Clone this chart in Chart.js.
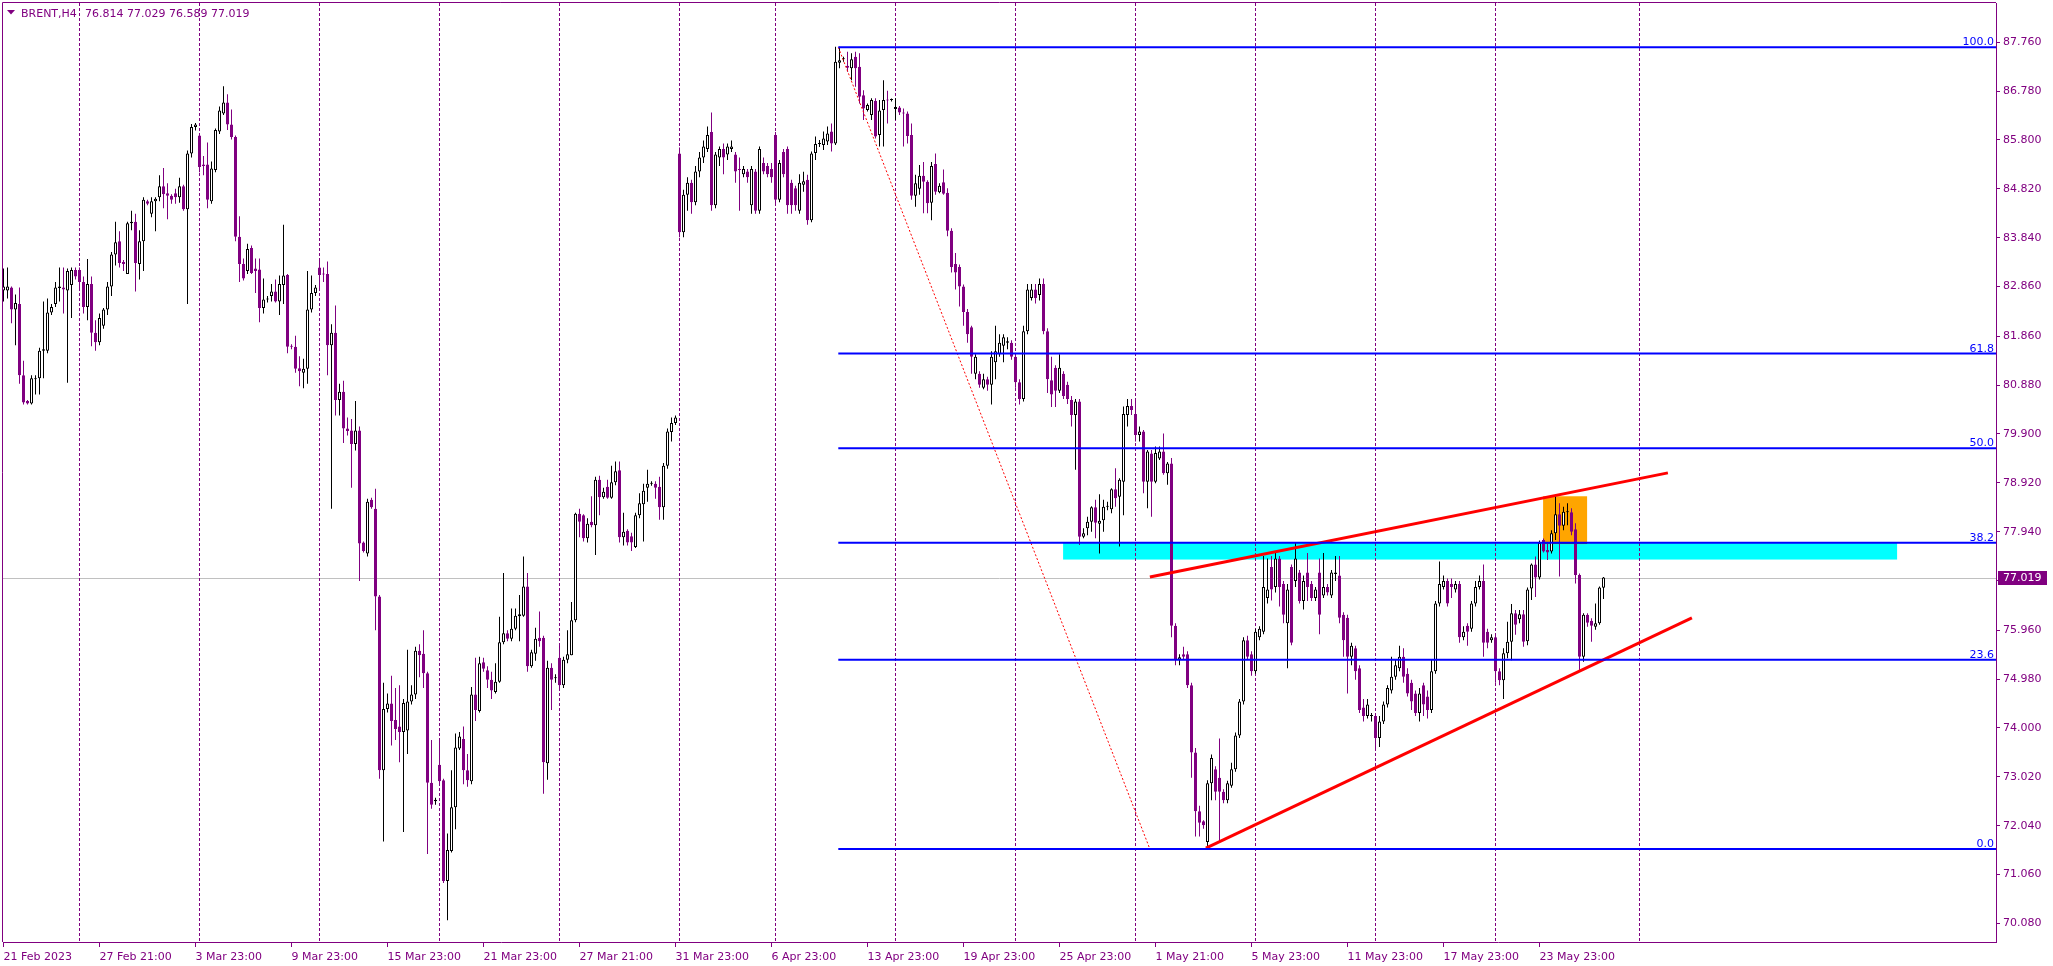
<!DOCTYPE html>
<html>
<head>
<meta charset="utf-8">
<title>BRENT,H4</title>
<script src="https://cdn.jsdelivr.net/npm/chart.js@4.4.1/dist/chart.umd.min.js"></script>
<style>
  html, body { margin: 0; padding: 0; background: #ffffff; }
  canvas { display: block; }
</style>
</head>
<body>
<canvas id="brent" width="2053" height="966"></canvas>
<script>
// BRENT H4 candles, bar 0 = 21 Feb 2023
const opens = [
  82.78,82.78,82.84,82.40,82.51,81.08,80.56,80.51,81.00,81.02,81.57,81.57,82.34,82.51,82.83,82.84,82.78,82.89,83.19,83.19,
  82.95,82.45,82.91,81.93,81.74,82.07,82.40,82.86,83.50,83.77,83.35,83.11,84.13,84.16,83.31,83.77,84.57,84.32,84.57,84.65,
  84.87,84.73,84.68,84.73,84.65,84.87,84.41,85.53,86.06,85.89,85.31,85.31,84.57,85.20,85.97,86.33,86.55,86.11,85.86,83.86,
  83.31,83.17,83.63,83.22,83.20,82.43,82.60,82.67,82.76,82.56,82.89,83.09,81.66,81.65,81.22,81.13,81.21,82.40,82.73,83.24,
  83.12,83.11,81.68,81.93,80.58,80.75,80.01,79.97,79.70,79.97,77.72,77.50,78.58,78.40,76.64,73.15,74.38,74.49,74.16,74.03,
  73.92,73.95,74.53,74.67,75.55,75.49,75.10,72.90,72.53,73.26,72.95,70.93,71.53,72.41,73.59,73.78,73.15,72.93,74.67,74.34,
  75.32,75.16,74.97,74.72,74.93,75.72,75.90,75.79,75.99,76.24,76.25,76.84,75.24,75.49,75.81,75.81,73.29,75.21,75.00,75.41,
  74.86,75.37,75.46,76.16,78.30,78.27,77.81,78.14,78.07,78.98,78.63,78.84,78.62,78.93,79.17,77.83,77.96,77.85,77.63,78.27,
  78.49,78.82,78.90,78.90,78.84,78.43,79.26,79.94,80.12,85.53,83.95,84.70,84.94,84.55,85.17,85.45,85.62,85.96,84.49,85.45,
  85.62,85.51,85.62,85.51,85.22,85.11,85.17,84.49,85.17,84.38,85.34,85.28,85.22,85.90,84.60,85.56,85.62,84.94,84.83,84.38,
  84.90,85.00,84.19,85.54,85.72,85.70,85.77,85.97,85.73,87.35,87.42,87.29,87.24,87.47,87.27,86.70,86.40,86.30,86.58,85.90,
  86.40,86.60,86.60,86.42,86.45,86.34,86.33,85.90,84.68,84.82,85.08,84.96,84.54,85.32,84.75,84.95,84.74,83.98,83.31,83.25,
  82.86,82.35,82.04,81.11,81.11,80.83,81.00,80.89,81.34,81.50,81.67,81.73,81.73,81.45,80.94,80.60,81.96,82.63,82.80,82.69,
  82.91,81.96,80.98,81.23,80.77,81.11,80.89,80.58,80.28,80.55,77.84,78.01,78.14,78.43,78.10,78.17,78.44,78.39,78.79,78.64,
  78.94,80.28,80.46,80.30,79.88,79.95,78.94,79.51,78.94,79.41,79.55,79.11,79.31,76.05,75.37,75.48,75.48,74.86,73.51,72.33,
  72.13,71.71,72.89,73.17,73.00,72.72,72.55,72.84,73.17,73.85,74.53,75.76,75.48,75.14,75.82,75.93,76.61,77.23,76.83,77.40,
  76.89,76.10,77.23,76.95,77.12,76.55,77.12,76.89,76.61,77.12,76.66,76.83,76.66,77.09,77.06,76.27,76.21,75.43,75.60,75.20,
  74.41,74.24,74.24,74.24,73.80,74.13,74.47,74.75,75.03,75.20,75.43,75.09,74.91,74.69,74.30,74.86,74.63,74.36,75.14,76.50,
  76.83,76.95,76.89,76.78,76.89,75.82,76.05,75.99,76.50,76.83,76.95,75.93,75.76,75.82,75.14,74.96,75.50,75.73,76.30,76.18,
  76.28,75.74,76.80,77.28,77.02,77.77,77.57,77.54,77.91,78.29,78.06,78.33,78.33,77.99,77.07,75.43,76.27,76.15,76.03,76.10,
  76.814
];
const highs = [
  83.22,83.24,82.86,82.70,82.84,81.37,80.58,81.08,81.08,81.63,82.56,82.62,82.51,82.95,83.24,83.24,83.22,83.24,83.24,83.24,
  83.06,83.41,83.06,82.18,82.32,82.43,82.95,83.55,84.16,83.97,83.39,84.16,84.38,84.32,83.99,84.65,84.60,84.65,84.65,85.09,
  85.24,84.93,84.71,84.82,85.04,84.90,85.59,86.12,86.14,85.92,85.48,85.75,85.37,86.03,86.47,86.88,86.72,86.41,85.89,84.27,
  83.42,83.72,83.68,83.42,83.42,83.02,82.67,82.91,83.00,83.08,84.10,83.11,81.70,81.87,81.46,81.41,83.17,83.08,82.89,83.42,
  83.24,83.36,82.10,82.48,80.91,80.97,80.23,80.20,80.56,80.05,77.74,78.60,78.62,78.80,76.67,74.91,74.69,75.05,74.80,74.86,
  74.58,75.57,74.86,75.63,75.68,75.96,75.13,73.76,72.60,73.76,72.98,71.88,73.15,73.89,73.92,74.03,73.48,74.82,75.41,75.43,
  75.41,75.24,75.13,75.30,76.23,77.11,75.96,76.40,76.40,76.67,77.44,77.11,75.57,76.01,76.34,75.85,75.35,75.30,75.08,75.68,
  75.43,75.96,76.53,78.32,78.40,78.29,78.21,78.65,79.04,79.06,78.82,78.98,79.26,79.35,79.35,78.32,77.99,77.92,78.32,78.71,
  78.90,79.18,78.95,78.95,79.04,79.32,80.01,80.23,80.27,85.65,84.80,85.05,85.00,85.28,85.56,85.79,86.07,86.35,85.56,85.67,
  85.73,85.73,85.79,85.56,85.45,85.28,85.22,85.28,85.22,85.67,85.45,85.34,85.34,85.96,85.40,85.62,85.67,85.00,84.88,85.11,
  85.16,85.10,85.57,85.87,85.80,85.97,86.07,86.13,87.67,87.67,87.47,87.57,87.54,87.57,87.54,86.80,86.53,86.64,86.64,86.60,
  87.00,86.79,86.63,86.64,86.48,86.43,86.37,86.13,85.10,85.30,85.36,84.99,85.36,85.53,84.93,85.21,84.83,84.03,83.53,83.30,
  82.90,82.41,82.07,81.50,81.16,81.11,81.05,81.56,82.07,81.90,81.90,81.84,81.78,81.50,81.00,82.07,82.91,82.91,82.91,83.02,
  83.02,82.02,81.45,81.28,81.50,81.16,80.95,80.66,80.60,80.60,78.01,78.24,78.45,78.58,78.69,78.58,78.54,78.81,79.21,79.01,
  80.45,80.60,80.60,80.60,80.05,79.98,79.58,79.58,79.65,79.65,79.91,79.34,79.42,76.10,75.48,75.63,75.54,74.91,73.60,72.44,
  72.15,72.95,73.47,73.23,73.79,72.77,72.94,73.30,73.91,74.58,75.82,75.85,75.54,75.99,76.04,77.45,77.40,77.45,77.51,77.45,
  76.95,76.89,77.28,77.73,77.17,77.06,77.51,76.95,76.83,77.40,77.51,76.89,77.17,77.45,77.45,76.32,76.27,75.71,75.65,75.26,
  74.58,74.58,74.30,74.30,74.24,74.53,74.86,75.43,75.37,75.65,75.60,75.20,74.97,74.75,74.80,74.91,74.75,75.37,76.55,77.34,
  77.06,77.00,77.00,76.95,76.95,76.04,76.10,76.55,76.95,77.06,77.28,75.99,75.88,75.88,75.20,75.60,76.13,76.49,76.37,76.37,
  76.37,76.82,77.30,77.44,77.76,77.80,77.71,77.97,78.68,78.51,78.44,78.51,78.41,78.11,77.10,76.30,76.30,76.20,76.50,76.84,
  77.029
];
const lows = [
  82.56,82.62,82.12,81.68,80.91,80.49,80.49,80.49,80.69,80.69,81.02,81.52,82.29,82.45,82.56,82.32,80.93,82.23,83.00,82.78,
  82.32,82.18,81.66,81.57,81.68,82.01,82.29,82.67,83.28,83.24,83.17,83.11,83.99,82.76,83.00,83.17,84.49,84.25,83.97,84.57,
  84.43,84.21,84.52,84.52,84.54,84.38,82.51,85.45,85.99,85.15,85.09,84.43,84.52,85.15,85.92,86.30,86.00,85.81,83.77,82.95,
  82.98,83.11,83.11,82.73,82.14,82.32,82.54,82.56,82.54,82.29,82.51,81.52,81.60,81.13,80.86,80.82,80.91,82.34,82.67,82.78,
  82.95,81.08,78.40,80.27,80.27,79.72,79.87,78.82,79.57,76.95,77.52,77.44,78.40,75.96,72.98,71.72,74.31,73.65,73.76,73.31,
  71.91,73.48,74.47,74.58,75.02,74.80,71.47,72.38,72.46,72.87,70.89,70.14,71.50,71.97,73.56,72.87,72.82,72.87,74.14,74.31,
  75.13,74.80,74.58,74.69,74.91,75.68,75.74,75.74,75.96,75.74,76.23,75.13,75.21,75.35,75.63,72.68,72.96,74.36,74.91,74.80,
  74.80,75.30,75.46,76.12,77.83,77.74,77.72,78.03,77.47,78.27,78.60,78.60,78.60,78.87,77.72,77.66,77.66,77.55,77.61,78.21,
  77.74,78.54,78.86,78.60,78.18,78.18,79.20,79.75,80.08,83.85,83.85,84.38,84.32,84.49,85.05,85.34,85.56,84.38,84.43,85.28,
  85.11,85.40,85.56,84.94,84.38,85.05,84.94,84.32,84.32,84.32,85.11,85.05,84.94,84.49,84.55,85.05,84.32,84.32,84.38,84.32,
  84.76,84.10,84.15,85.40,85.66,85.60,85.70,85.57,85.70,87.24,87.37,87.17,87.00,86.87,86.53,86.20,86.37,86.20,85.83,85.67,
  85.67,86.13,86.57,86.20,86.30,85.67,85.73,84.60,84.46,84.70,84.33,84.33,84.19,84.70,84.73,84.70,83.87,83.14,82.80,82.46,
  82.07,81.73,81.11,81.00,80.83,80.80,80.77,80.49,81.00,81.45,81.34,81.60,81.39,80.83,80.49,80.55,81.90,82.58,82.52,82.58,
  81.90,80.72,80.44,80.44,80.72,80.60,80.50,80.05,79.18,77.67,77.81,77.87,77.94,77.81,77.50,77.94,78.37,78.31,78.44,77.64,
  78.27,80.05,80.28,79.75,79.75,78.71,78.41,78.24,78.91,79.38,79.08,78.88,75.82,75.26,75.26,75.37,74.80,73.00,71.82,71.82,
  71.98,71.57,72.55,72.55,71.71,72.49,72.49,72.80,73.12,73.80,74.47,75.37,75.05,75.09,75.76,75.88,76.50,76.56,76.72,76.44,
  76.10,75.20,75.66,76.83,76.50,76.38,76.55,76.55,76.55,75.88,76.61,76.66,76.61,76.95,76.10,75.43,74.69,75.26,74.97,74.30,
  74.13,74.19,74.13,73.57,73.62,74.08,74.41,74.69,74.97,75.14,74.91,74.63,74.36,74.24,74.13,74.24,74.19,74.30,75.09,76.44,
  76.78,76.44,76.61,76.72,75.71,75.76,75.65,75.93,76.44,76.78,75.43,75.60,75.71,74.91,74.86,74.58,75.40,75.36,75.87,76.10,
  75.63,75.66,76.57,76.63,76.98,77.52,77.37,77.50,77.77,77.04,77.97,78.07,77.87,76.90,75.16,75.33,76.03,75.73,75.97,76.07,
  76.589
];
const closes = [
  82.86,82.86,82.40,82.53,81.08,80.53,80.51,81.02,81.02,81.57,81.60,82.34,82.45,82.84,82.86,82.80,83.17,83.19,83.06,82.95,
  82.45,82.91,81.93,81.74,82.23,82.40,82.86,83.50,83.75,83.33,83.31,84.13,84.16,83.33,83.77,84.60,84.52,84.57,84.62,84.87,
  84.71,84.68,84.60,84.65,84.87,84.41,85.53,86.06,86.11,85.26,85.28,84.60,85.23,86.00,86.39,86.55,86.11,85.86,83.86,83.31,
  83.02,83.61,83.13,83.17,82.43,82.60,82.60,82.76,82.56,82.91,83.08,81.65,81.65,81.21,81.16,81.21,82.40,82.73,82.84,83.09,
  83.10,81.68,81.93,80.58,80.75,80.01,79.96,79.70,79.97,77.70,77.55,78.54,78.43,76.64,73.15,74.38,74.49,74.14,73.98,73.92,
  74.50,74.53,74.67,75.55,75.46,75.10,72.90,72.46,72.56,72.93,70.93,71.55,72.41,73.61,73.83,73.15,72.95,74.67,74.36,75.30,
  75.19,74.97,74.75,74.93,75.72,75.90,75.79,75.99,76.25,76.28,76.84,75.24,75.52,75.79,75.74,73.31,75.21,74.97,75.00,74.86,
  75.37,75.48,76.16,78.30,78.14,77.81,78.10,78.07,78.98,78.63,78.74,78.62,78.93,79.15,77.83,77.94,77.72,77.72,78.27,78.51,
  78.76,78.90,78.90,78.82,78.43,79.26,79.95,80.12,80.23,83.95,84.70,84.94,84.55,85.17,85.45,85.67,85.90,84.49,85.51,85.62,
  85.45,85.67,85.67,85.17,85.20,85.22,85.05,85.22,84.38,85.62,85.17,85.11,85.05,84.60,85.34,85.11,84.49,84.49,84.49,84.94,
  84.97,84.19,85.53,85.72,85.74,85.83,85.93,85.73,87.37,87.40,87.42,87.25,87.42,87.24,86.67,86.43,86.50,86.60,85.87,86.39,
  86.60,86.59,86.60,86.46,86.35,86.33,85.88,84.68,84.93,85.08,84.96,84.53,85.28,84.76,84.88,84.72,83.98,83.25,83.14,82.86,
  82.35,81.90,81.45,81.45,80.89,81.00,80.89,81.45,81.56,81.73,81.84,81.76,81.45,80.94,80.60,81.96,82.80,82.80,82.63,82.91,
  81.96,81.00,80.69,80.77,81.23,80.66,80.60,80.28,80.55,77.84,77.91,78.14,78.43,78.12,78.16,78.44,78.44,78.79,78.61,78.98,
  80.30,80.46,80.38,79.88,79.95,78.94,79.55,78.94,79.52,79.55,79.11,79.31,76.05,75.37,75.42,75.43,74.86,73.51,72.33,72.10,
  72.05,72.89,73.40,72.72,72.72,72.55,72.89,73.17,73.85,74.53,75.76,75.43,75.14,75.93,75.99,76.83,76.78,76.78,77.40,76.83,
  76.27,76.78,75.71,77.40,76.55,76.95,76.83,76.61,76.78,76.27,76.83,76.72,77.12,77.12,76.21,75.76,75.43,75.65,75.14,74.36,
  74.24,74.47,74.24,73.80,74.13,74.47,74.80,75.03,75.26,75.43,75.03,74.69,74.53,74.30,74.69,74.47,74.36,75.14,76.50,76.89,
  76.95,76.50,76.83,76.89,75.82,75.93,75.93,76.50,76.83,76.95,75.71,75.71,75.82,75.14,74.96,75.50,75.73,76.30,76.07,76.28,
  75.73,76.78,77.28,77.02,77.71,77.54,77.52,77.91,78.29,78.06,78.34,78.33,77.94,77.07,75.43,76.27,76.11,76.05,76.10,76.82,
  77.019
];

// time axis labels (bar index -> text) and weekly separators
const tickBars = [0, 24, 48, 72, 96, 120, 144, 168, 192, 216, 240, 264, 288, 312, 336, 360, 384];
const tickLabels = ['21 Feb 2023', '27 Feb 21:00', '3 Mar 23:00', '9 Mar 23:00', '15 Mar 23:00', '21 Mar 23:00',
  '27 Mar 21:00', '31 Mar 23:00', '6 Apr 23:00', '13 Apr 23:00', '19 Apr 23:00', '25 Apr 23:00', '1 May 21:00',
  '5 May 23:00', '11 May 23:00', '17 May 23:00', '23 May 23:00'];
const weekStarts = [19, 49, 79, 109, 139, 169, 193, 223, 253, 283, 313, 343, 373, 409];
const priceTicks = [70.08, 71.06, 72.04, 73.02, 74.00, 74.98, 75.96, 76.96, 77.94, 78.92, 79.90,
  80.88, 81.86, 82.86, 83.84, 84.82, 85.80, 86.78, 87.76];

// analysis objects
const fibBars = [208.7, 286.6];
const fibHigh = 87.66;
const fibLow = 71.57;
const fibLevels = [0, 23.6, 38.2, 50, 61.8, 100];
const upperTrendBars = [286.6, 416.1];
const upperTrendPrices = [77.03, 79.12];
const lowerTrendBars = [300.6, 422.1];
const lowerTrendPrices = [71.59, 76.21];
const zoneBars = [264.9, 473.4];
const zonePrices = [77.38, 77.72];
const boxBars = [384.9, 395.9];
const boxPrices = [77.69, 78.65];

const xMin = -0.125;
const xMax = 498.125;
const yMin = 69.705;
const yMax = 88.549;

const PURPLE = '#800080';
const last = closes.length - 1;
const isUp = i => closes[i] >= opens[i];
const fibPrice = lv => fibLow + (fibHigh - fibLow) * lv / 100;

Chart.defaults.font.family = '"DejaVu Sans", Verdana, sans-serif';
Chart.defaults.font.size = 11;
Chart.defaults.color = PURPLE;

const idx = closes.map((c, i) => i);

const candleWicks = {
  label: 'wicks',
  data: idx.map(i => ({ x: i, y: [lows[i], highs[i]] })),
  backgroundColor: idx.map(i => isUp(i) ? '#000000' : PURPLE),
  borderWidth: 0,
  grouped: false,
  barPercentage: 1,
  categoryPercentage: 1,
  maxBarThickness: 1,
  inflateAmount: 0,
  order: 2
};

const candleBodies = {
  label: 'bodies',
  data: idx.map(i => ({ x: i, y: [opens[i], closes[i]] })),
  backgroundColor: idx.map(i => isUp(i) ? '#ffffff' : PURPLE),
  borderColor: idx.map(i => isUp(i) ? '#000000' : PURPLE),
  borderWidth: 1,
  borderSkipped: false,
  minBarLength: 1,
  grouped: false,
  barPercentage: 1,
  categoryPercentage: 1,
  maxBarThickness: 3,
  inflateAmount: 0,
  order: 1
};

function segment(bars, prices, color, width, dash) {
  return {
    type: 'line',
    data: [{ x: bars[0], y: prices[0] }, { x: bars[1], y: prices[1] }],
    borderColor: color,
    borderWidth: width,
    borderDash: dash || [],
    pointRadius: 0,
    pointHoverRadius: 0,
    fill: false,
    tension: 0,
    order: 0
  };
}

const fibLines = fibLevels.map(lv => segment([fibBars[0], xMax], [fibPrice(lv), fibPrice(lv)], '#0000ff', 2));

// rectangles, price line and separators behind the candles; labels on top
const terminalDecor = {
  id: 'terminalDecor',
  beforeDatasetsDraw(chart) {
    const { ctx, chartArea: a, scales: { x, y } } = chart;
    ctx.save();
    ctx.beginPath();
    ctx.rect(a.left, a.top, a.right - a.left, a.bottom - a.top);
    ctx.clip();

    let x1 = x.getPixelForValue(zoneBars[0]), x2 = x.getPixelForValue(zoneBars[1]);
    let y1 = y.getPixelForValue(zonePrices[1]), y2 = y.getPixelForValue(zonePrices[0]);
    ctx.fillStyle = '#00ffff';
    ctx.fillRect(x1, y1, x2 - x1, y2 - y1);

    x1 = x.getPixelForValue(boxBars[0]); x2 = x.getPixelForValue(boxBars[1]);
    y1 = y.getPixelForValue(boxPrices[1]); y2 = y.getPixelForValue(boxPrices[0]);
    ctx.fillStyle = '#ffa500';
    ctx.fillRect(x1, y1, x2 - x1, y2 - y1);
    ctx.fillStyle = '#3c7a00';
    ctx.fillRect(x1, Math.round(y2) - 1, x2 - x1, 1);

    const py = Math.round(y.getPixelForValue(closes[last])) + 0.5;
    ctx.strokeStyle = '#c0c0c0';
    ctx.lineWidth = 1;
    ctx.beginPath();
    ctx.moveTo(a.left, py);
    ctx.lineTo(a.right, py);
    ctx.stroke();

    ctx.strokeStyle = PURPLE;
    ctx.setLineDash([3, 2]);
    weekStarts.forEach(i => {
      const px = Math.floor(x.getPixelForValue(i)) + 0.5;
      ctx.beginPath();
      ctx.moveTo(px, a.top);
      ctx.lineTo(px, a.bottom);
      ctx.stroke();
    });
    ctx.restore();
  },
  afterDatasetsDraw(chart) {
    const { ctx, chartArea: a, scales: { y } } = chart;
    ctx.save();
    ctx.font = '11px "DejaVu Sans", Verdana, sans-serif';

    // fibonacci level captions
    ctx.fillStyle = '#0000ff';
    ctx.textAlign = 'right';
    ctx.textBaseline = 'alphabetic';
    fibLevels.forEach(lv => {
      ctx.fillText(lv.toFixed(1), a.right - 2, y.getPixelForValue(fibPrice(lv)) - 2);
    });

    // frame on the left and top
    ctx.strokeStyle = PURPLE;
    ctx.lineWidth = 1;
    ctx.beginPath();
    ctx.moveTo(a.left - 0.5, a.bottom);
    ctx.lineTo(a.left - 0.5, a.top - 0.5);
    ctx.lineTo(a.right, a.top - 0.5);
    ctx.stroke();

    // last price tag
    const py = Math.round(y.getPixelForValue(closes[last]));
    ctx.fillStyle = PURPLE;
    ctx.fillRect(a.right + 2, py - 7, 49, 14);
    ctx.fillStyle = '#ffffff';
    ctx.textAlign = 'left';
    ctx.textBaseline = 'middle';
    ctx.fillText(closes[last].toFixed(3), a.right + 7, py);

    // symbol header
    ctx.fillStyle = PURPLE;
    ctx.beginPath();
    ctx.moveTo(7, 10);
    ctx.lineTo(15, 10);
    ctx.lineTo(11, 14.5);
    ctx.closePath();
    ctx.fill();
    ctx.textBaseline = 'alphabetic';
    ctx.fillText('BRENT,H4', 21, 17);
    ctx.fillText([opens[last], highs[last], lows[last], closes[last]].map(v => v.toFixed(3)).join(' '), 85, 17);
    ctx.restore();
  }
};

new Chart(document.getElementById('brent'), {
  type: 'bar',
  data: {
    datasets: [
      candleBodies,
      candleWicks,
      ...fibLines,
      segment(fibBars, [fibHigh, fibLow], '#ff0000', 1, [2, 2]),
      segment(upperTrendBars, upperTrendPrices, '#ff0000', 3),
      segment(lowerTrendBars, lowerTrendPrices, '#ff0000', 3)
    ]
  },
  options: {
    responsive: false,
    animation: false,
    events: [],
    layout: { autoPadding: false, padding: { left: 3, top: 3, right: 0, bottom: 0 } },
    plugins: {
      legend: { display: false },
      tooltip: { enabled: false }
    },
    scales: {
      x: {
        type: 'linear',
        min: xMin,
        max: xMax,
        bounds: 'data',
        offset: false,
        grid: { drawOnChartArea: false, tickLength: 5, color: PURPLE, offset: false },
        border: { color: PURPLE },
        ticks: {
          autoSkip: false,
          maxRotation: 0,
          minRotation: 0,
          align: 'start',
          padding: 4,
          color: PURPLE,
          callback: (v, i) => tickLabels[i]
        },
        afterBuildTicks: s => { s.ticks = tickBars.map(v => ({ value: v })); },
        afterFit: s => { s.height = 24; s.paddingLeft = 0; s.paddingRight = 0; }
      },
      y: {
        type: 'linear',
        position: 'right',
        min: yMin,
        max: yMax,
        bounds: 'data',
        grid: { drawOnChartArea: false, tickLength: 4, color: PURPLE },
        border: { color: PURPLE },
        ticks: {
          padding: 3,
          crossAlign: 'near',
          color: PURPLE,
          callback: v => Number(v).toFixed(3)
        },
        afterBuildTicks: s => { s.ticks = priceTicks.map(v => ({ value: v })); },
        afterFit: s => { s.width = 57; s.paddingTop = 0; s.paddingBottom = 0; }
      }
    }
  },
  plugins: [terminalDecor]
});
</script>
</body>
</html>
